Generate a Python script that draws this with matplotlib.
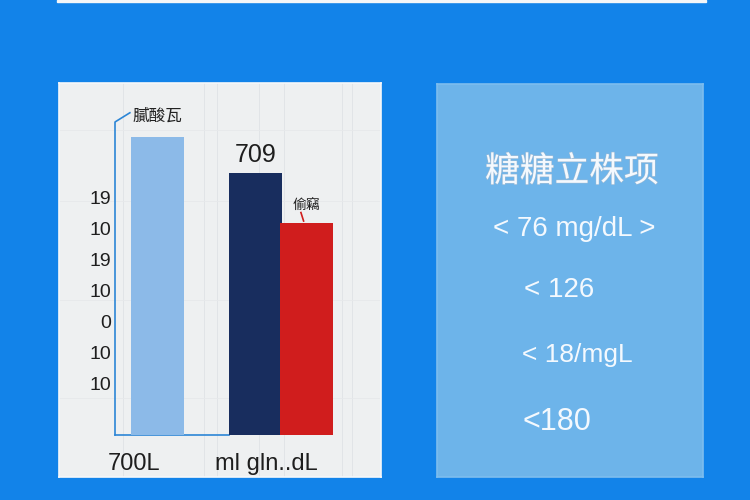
import numpy as np
import matplotlib.pyplot as plt
import matplotlib.patheffects as pe
from matplotlib.patches import Rectangle

plt.rcParams['font.family'] = ['Liberation Sans', 'Noto Sans CJK SC', 'DejaVu Sans']

# bar data
bar_pos = [0.0, 1.85, 2.8]
bar_vals = [806, 709, 574]
bar_colors = ['#8CBAE8', '#182D5E', '#D01D1D']
bar_notes = ['膩酸瓦', '709', '偷竊']

y_tick_pos = [140, 224, 308, 392, 476, 560, 644]
y_tick_labels = ['10', '10', '0', '10', '19', '10', '19']

x_label_pos = [-0.44, 2.05]
x_labels = ['700L', 'ml gln..dL']

# side panel text
side_title = '糖糖立株项'
side_lines = ['< 76 mg/dL >', '< 126', '< 18/mgL', '<180']

W, H = 750, 500
BG = '#1283E9'


def box(x0, y0, x1, y1):
    # pixel box (top-left origin) -> figure fraction rect
    return [x0 / W, (H - y1) / H, (x1 - x0) / W, (y1 - y0) / H]


fig = plt.figure(figsize=(7.5, 5), dpi=100, facecolor=BG)

# thin white strip at the very top
fig.patches.append(Rectangle((57 / W, 1 - 2 / H), (706 - 57) / W, 2 / H,
                             transform=fig.transFigure, color='#F4F6F8', zorder=0))

# white card behind the chart
card = fig.add_axes(box(59, 83, 381, 477))
card.set_facecolor('#EEF0F1')
card.set_xlim(0, 1)
card.set_ylim(0, 1)
for x in [0.2, 0.45, 0.49, 0.62, 0.7, 0.88, 0.91]:
    card.axvline(x, color='#E1E4E7', lw=0.7, zorder=0)
for y in [0.2, 0.45, 0.7, 0.88]:
    card.axhline(y, color='#E6E8EA', lw=0.6, zorder=0)
card.set_xticks([])
card.set_yticks([])
for s in card.spines.values():
    s.set_color('#F6F8FA')
    s.set_linewidth(1.2)

# bar chart
ax = fig.add_axes(box(115, 122, 370, 435))
ax.patch.set_alpha(0)
ax.set_xlim(-0.8, 4.0)
ax.set_ylim(0, 847)
bars = ax.bar(bar_pos, bar_vals, width=1.0, color=bar_colors, zorder=3)

for s in ax.spines.values():
    s.set_visible(False)
# axis line: bottom runs to the second bar, left bends toward the first label
ax.plot([-0.8, 1.35], [0, 0], color='#2C86D6', lw=1.2, zorder=2, clip_on=False)
ax.plot([-0.8, -0.8, -0.52], [0, 847, 872], color='#2C86D6', lw=1.2,
        zorder=2, clip_on=False)

ax.set_yticks(y_tick_pos, y_tick_labels)
ax.tick_params(axis='y', length=0, pad=3, labelsize=14, labelcolor='#1E1E1E')
ax.set_xticks(x_label_pos, x_labels)
ax.tick_params(axis='x', length=0, pad=13, labelsize=17, labelcolor='#1E1E1E')

ax.text(bar_pos[0], 862, bar_notes[0], ha='center', va='center',
        fontsize=12, color='#222222', clip_on=False)
ax.text(bar_pos[1], bar_vals[1] + 16, bar_notes[1], ha='center', va='bottom',
        fontsize=18, color='#1E1E1E')
ax.text(bar_pos[2], bar_vals[2] + 28, bar_notes[2], ha='center', va='bottom',
        fontsize=10, color='#222222')
ax.plot([bar_pos[2] - 0.05, bar_pos[2] - 0.1], [bar_vals[2] + 5, bar_vals[2] + 28],
        color='#D01D1D', lw=1.2)

# right info panel
side = fig.add_axes(box(437, 84, 703, 477))
side.set_facecolor('#6DB4EA')
side.set_xticks([])
side.set_yticks([])
for s in side.spines.values():
    s.set_color('#7DBDEE')
    s.set_linewidth(1.2)

glow = [pe.withStroke(linewidth=0.8, foreground='#9DBAD4')]
fig.text(572 / W, 1 - 172 / H, side_title, ha='center', va='center',
         fontsize=25, color='#F4F9FE', family=['Noto Sans CJK SC', 'DejaVu Sans'],
         path_effects=glow)

line_x = [493, 524, 522, 523]
line_y = [229, 290, 355, 422]
line_size = [20, 20, 19, 22]
for txt, x, y, fs in zip(side_lines, line_x, line_y, line_size):
    fig.text(x / W, 1 - y / H, txt, ha='left', va='center', fontsize=fs,
             color='#F4F9FE')

fig.savefig('out.png', dpi=100, facecolor=BG)
